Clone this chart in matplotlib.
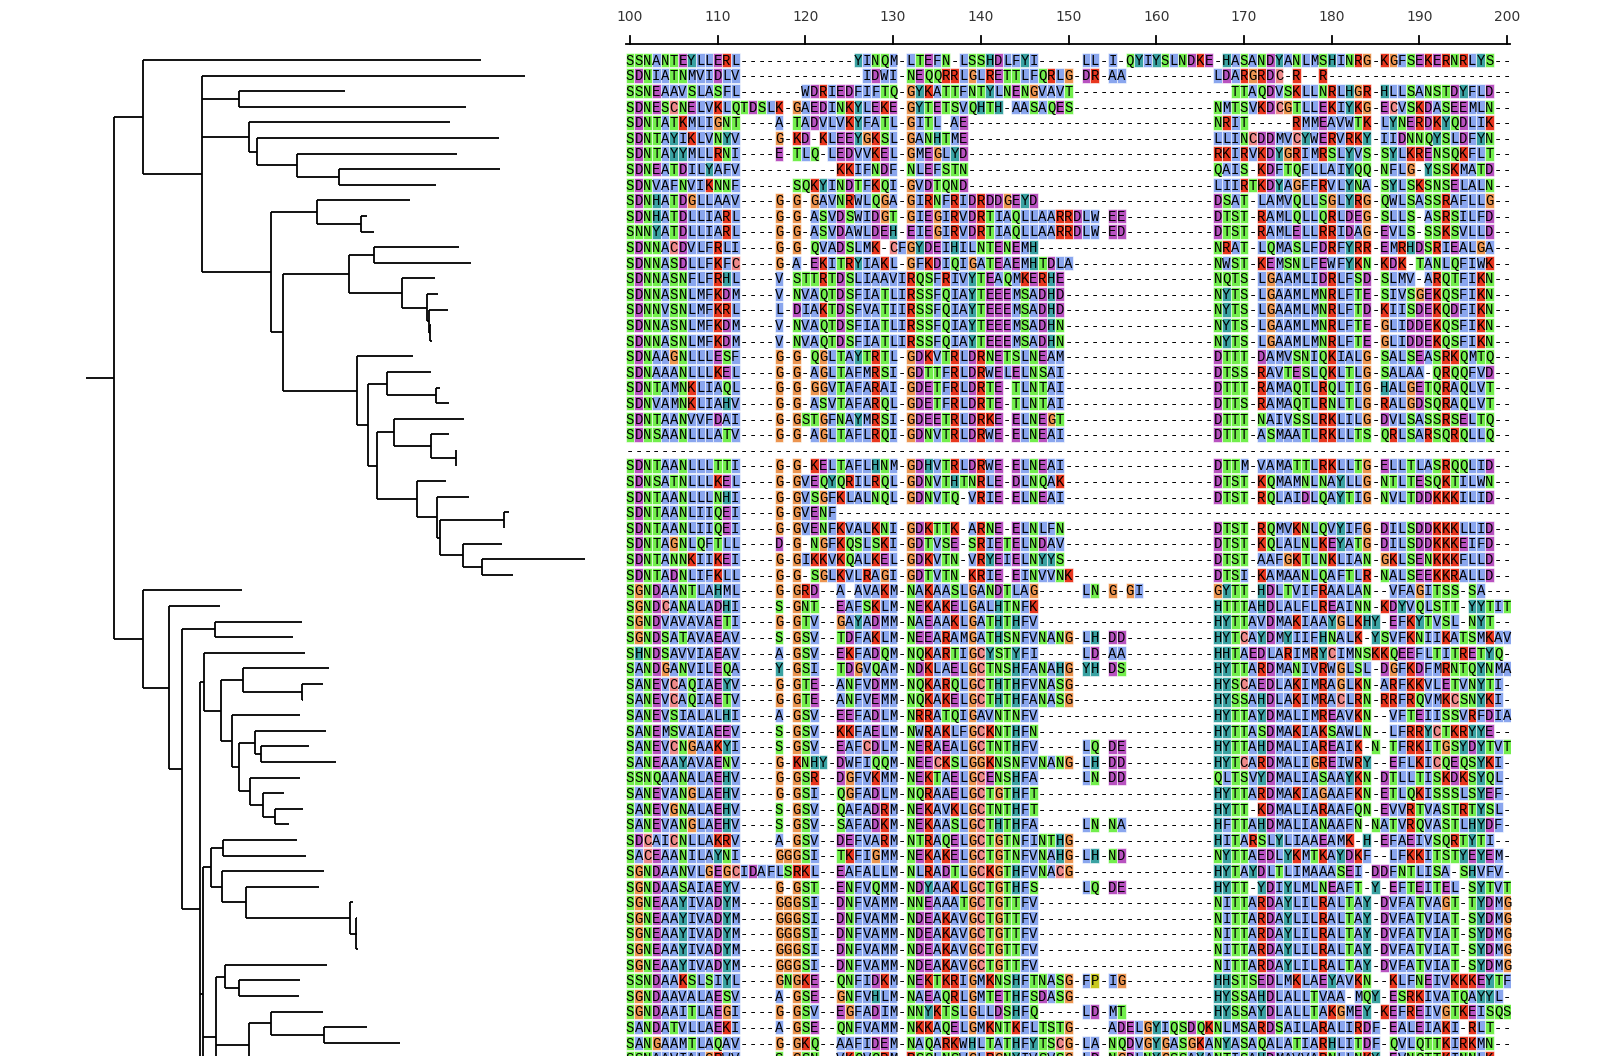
import matplotlib
matplotlib.use("Agg")
import matplotlib.pyplot as plt
from matplotlib.patches import Rectangle

# ---------------- data ----------------
tick_labels = list(range(100, 201, 10))
first_col = 100
n_cols = 101
right_start = 67  # column offset (from 100) where right-hand block begins

left_parts = [
    "SSNANTEYLLERL-------------YINQM-LTEFN-LSSHDLFYI-----LL-I-QYIYSLNDKE",
    "SDNIATNMVIDLV--------------IDWI-NEQQRRLGLRETTLFQRLG-DR-AA",
    "SSNEAAVSLASFL-------WDRIEDFIFTQ-GYKATTFNTYLNENGVAVT",
    "SDNESCNELVKLQTDSLK-GAEDINKYLEKE-GYTETSVQHTH-AASAQES",
    "SDNTATKMLIGNT----A-TADVLVKYFATL-GITL-AE",
    "SDNTAYIKLVNYV----G-KD-KLEEYGKSL-GANHTME",
    "SDNTAYYMLLRNI----E-TLQ-LEDVVKEL-GMEGLYD",
    "SDNEATDILYAFV-----------KKIFNDF-NLEFSTN",
    "SDNVAFNVIKNNF------SQKYINDTFKQI-GVDTQND",
    "SDNHATDGLLAAV----G-G-GAVNRWLQGA-GIRNFRIDRDDGEYD",
    "SDNHATDLLIARL----G-G-ASVDSWIDGT-GIEGIRVDRTIAQLLAARRDLW-EE",
    "SNNYATDLLIARL----G-G-ASVDAWLDEH-EIEGIRVDRTIAQLLAARRDLW-ED",
    "SDNNACDVLFRLI----G-G-QVADSLMK-CFGYDEIHILNTENEMH",
    "SDNNASDLLFKFC----G-A-EKITRYIAKL-GFKDIQIGATEAEMHTDLA",
    "SDNNASNFLFRHL----V-STTRTDSLIAAVIRQSFRIVYTEAQMKERHE",
    "SDNNASNLMFKDM----V-NVAQTDSFIATLIRSSFQIAYTEEEMSADHD",
    "SDNNVSNLMFKRL----L-DIAKTDSFVATIIRSSFQIAYTEEEMSADHD",
    "SDNNASNLMFKDM----V-NVAQTDSFIATLIRSSFQIAYTEEEMSADHN",
    "SDNNASNLMFKDM----V-NVAQTDSFIATLIRSSFQIAYTEEEMSADHN",
    "SDNAAGNLLLESF----G-G-QGLTAYTRTL-GDKVTRLDRNETSLNEAM",
    "SDNAAANLLLKEL----G-G-AGLTAFMRSI-GDTTFRLDRWELELNSAI",
    "SDNTAMNKLIAQL----G-G-GGVTAFARAI-GDETFRLDRTE-TLNTAI",
    "SDNVAMNKLIAHV----G-G-ASVTAFARQL-GDETFRLDRTE-TLNTAI",
    "SDNTAANVVFDAI----G-GSTGFNAYMRSI-GDEETRLDRKE-ELNEGT",
    "SDNSAANLLLATV----G-G-AGLTAFLRQI-GDNVTRLDRWE-ELNEAI",
    "",
    "SDNTAANLLLTTI----G-G-KELTAFLHNM-GDHVTRLDRWE-ELNEAI",
    "SDNSATNLLLKEL----G-GVEQYQRILRQL-GDNVTHTNRLE-DLNQAK",
    "SDNTAANLLLNHI----G-GVSGFKLALNQL-GDNVTQ-VRIE-ELNEAI",
    "SDNTAANLIIQEI----G-GVENF",
    "SDNTAANLIIQEI----G-GVENFKVALKNI-GDKTTK-ARNE-ELNLFN",
    "SDNTAGNLQFTLL----D-G-NGFKQSLSKI-GDTVSE-SRIETELNDAV",
    "SDNTANNKIIKEI----G-GIKKVKQALKEL-GDKVTN-VRYEIELNYYS",
    "SDNTADNLIFKLL----G-G-SGLKVLRAGI-GDTVTN-KRIE-EINVVNK",
    "SGNDAANTLAHML----G-GRD--A-AVAKM-NAKAASLGANDTLAG-----LN-G-GI",
    "SGNDCANALADHI----S-GNT--EAFSKLM-NEKAKELGALHTNFK",
    "SGNDVAVAVAETI----G-GTV--GAYADMM-NAEAAKLGATHTHFV",
    "SGNDSATAVAEAV----S-GSV--TDFAKLM-NEEARAMGATHSNFVNANG-LH-DD",
    "SHNDSAVVIAEAV----A-GSV--EKFADQM-NQKARTIGCYSTYFI-----LD-AA",
    "SANDGANVILEQA----Y-GSI--TDGVQAM-NDKLAELGCTNSHFANAHG-YH-DS",
    "SANEVCAQIAEYV----G-GTE--ANFVDMM-NQKARQLGCTHTHFVNASG",
    "SANEVCAQIAETV----G-GTE--ANFVEMM-NQKAKELGCTHTHFANASG",
    "SANEVSIALALHI----A-GSV--EEFADLM-NRRATQIGAVNTNFV",
    "SANEMSVAIAEEV----S-GSV--KKFAELM-NWRAKLFGCKNTHFN",
    "SANEVCNGAAKYI----S-GSV--EAFCDLM-NERAEALGCTNTHFV-----LQ-DE",
    "SANEAAYAVAENV----G-KNHY-DWFIQQM-NEECKSLGGKNSNFVNANG-LH-DD",
    "SSNQAANALAEHV----G-GSR--DGFVKMM-NEKTAELGCENSHFA-----LN-DD",
    "SANEVANGLAEHV----G-GSI--QGFADLM-NQRAAELGCTGTHFT",
    "SANEVGNALAEHV----S-GSV--QAFADRM-NEKAVKLGCTNTHFT",
    "SANEVANGLAEHV----S-GSV--SAFADKM-NEKAASLGCTHTHFA-----LN-NA",
    "SDCAICNLLAKRV----A-GSV--DEFVARM-NTRAQELGCTGTNFINTHG",
    "SACEAANILAYNI----GGGSI--TKFIGMM-NEKAKELGCTGTNFVNAHG-LH-ND",
    "SGNDAANVLGEGCIDAFLSRKL--EAFALLM-NLRADTLGCKGTHFVNACG",
    "SGNDAASAIAEYV----G-GST--ENFVQMM-NDYAAKLGCTGTHFS-----LQ-DE",
    "SGNEAAYIVADYM----GGGSI--DNFVAMM-NNEAAATGCTGTTFV",
    "SGNEAAYIVADYM----GGGSI--DNFVAMM-NDEAKAVGCTGTTFV",
    "SGNEAAYIVADYM----GGGSI--DNFVAMM-NDEAKAVGCTGTTFV",
    "SGNEAAYIVADYM----GGGSI--DNFVAMM-NDEAKAVGCTGTTFV",
    "SGNEAAYIVADYM----GGGSI--DNFVAMM-NDEAKAVGCTGTTFV",
    "SSNDAAKSLSIYL----GNGKE--QNFIDKM-NEKTKRIGMKNSHFTNASG-FP-IG",
    "SGNDAAVALAESV----A-GSE--GNFVHLM-NAEAQRLGMTETHFSDASG",
    "SGNDAAITLAEGI----G-GSV--EGFADIM-NNYKTSLGLLDSHFQ-----LD-MT",
    "SANDATVLLAEKI----A-GSE--QNFVAMM-NKKAQELGMKNTKFLTSTG----ADELGYIQSDQK",
    "SANGAAMTLAQAV----G-GKQ--AAFIDEM-NAQARKWHLTATHFYTSCG-LA-NQDVGYGASGKA",
    "SSNAAVIALGRWV----S-GSN--VKQVQRM-RSQLNSWGLRGNYIVSVSG-LD-NGDLNYGSSAYA",
]

right_parts = [
    "-HASANDYANLMSHINRG-KGFSEKERNRLYS--",
    "LDARGRDC-R--R---------------------",
    "--TTAQDVSKLLNRLHGR-HLLSANSTDYFLD--",
    "NMTSVKDCGTLLEKIYKG-ECVSKDASEEMLN--",
    "NRIT-----RMMEAVWTK-LYNERDKYQDLIK--",
    "LLINCDDMVCYWERVRKY-IIDNNQYSLDFYN--",
    "RKIRVKDYGRIMRSLYVS-SYLKRENSQKFLT--",
    "QAIS-KDFTQFLLAIYQQ-NFLG-YSSKMATD--",
    "LIIRTKDYAGFFRVLYNA-SYLSKSNSELALN--",
    "DSAT-LAMVQLLSGLYRG-QWLSASSRAFLLG--",
    "DTST-RAMLQLLQRLDEG-SLLS-ASRSILFD--",
    "DTST-RAMLELLRRIDAG-EVLS-SSKSVLLD--",
    "NRAT-LQMASLFDRFYRR-EMRHDSRIEALGA--",
    "NWST-KEMSNLFEWFYKN-KDK-TANLQFIWK--",
    "NQTS-LGAAMLIDRLFSD-SLMV-ARQTFIKN--",
    "NYTS-LGAAMLMNRLFTE-SIVSGEKQSFIKN--",
    "NYTS-LGAAMLMNRLFTD-KIISDEKQDFIKN--",
    "NYTS-LGAAMLMNRLFTE-GLIDDEKQSFIKN--",
    "NYTS-LGAAMLMNRLFTE-GLIDDEKQSFIKN--",
    "DTTT-DAMVSNIQKIALG-SALSEASRKQMTQ--",
    "DTSS-RAVTESLQKLTLG-SALAA-QRQQFVD--",
    "DTTT-RAMAQTLRQLTIG-HALGETQRAQLVT--",
    "DTTS-RAMAQTLRNLTLG-RALGDSQRAQLVT--",
    "DTTT-NAIVSSLRKLILG-DVLSASSRSELTQ--",
    "DTTT-ASMAATLRKLLTS-QRLSARSQRQLLQ--",
    "",
    "DTTM-VAMATTLRKLLTG-ELLTLASRQQLID--",
    "DTST-KQMAMNLNAYLLG-NTLTESQKTILWN--",
    "DTST-RQLAIDLQAYTIG-NVLTDDKKKILID--",
    "",
    "DTST-RQMVKNLQVYIFG-DILSDDKKKLLID--",
    "DTST-KQLALNLKEYATG-DILSDDKKKEIFD--",
    "DTST-AAFGKTLNKLIAN-GKLSENKKKFLLD--",
    "DTSI-KAMAANLQAFTLR-NALSEEKKRALLD--",
    "GYTT-HDLTVIFRAALAN--VFAGITSS-SA---",
    "HTTTAHDLALFLREAINN-KDYVQLSTT-YYTIT",
    "HYTTAVDMAKIAAYGLKHY-EFKYTVSL-NYT--",
    "HYTCAYDMYIIFHNALK-YSVFKNIIKATSMKAV",
    "HHTAEDLARIMRYCIMNSKKQEEFLTITRETYQ-",
    "HYTTARDMANIVRWGLSL-DGFKDFMRNTQYNMA",
    "HYSCAEDLAKIMRAGLKN-ARFKKVLETVNYTI-",
    "HYSSAHDLAKIMRACLRN-RRFRQVMKCSNYKI-",
    "HYTTAYDMALIMREAVKN--VFTEIISSVRFDIA",
    "HYTTASDMAKIAKSAWLN--LFRRYCTKRYYE--",
    "HYTTAHDMALIAREAIK-N-TFRKITGSYDYTVT",
    "HYTCARDMALIGREIWRY--EFLKICQEQSYKI-",
    "QLTSVYDMALIASAAYKN-DTLLTISKDKSYQL-",
    "HYTTARDMAKIAGAAFKN-ETLQKISSSLSYEF-",
    "HYTT-KDMALIARAAFQN-EVVRTVASTRTYSL-",
    "HFTTAHDMALIANAAFN-NATVRQVASTLHYDF-",
    "HITARSLYLIAAEAMK-H-EFAEIVSQRTYTI--",
    "NYTTAEDLYKMTKAYDKF--LFKKITSTYEYEM-",
    "HYTAYDLTLIMAAASEI-DDFNTLISA-SHVFV-",
    "HYTT-YDIYLMLNEAFT-Y-EFTEITEL-SYTVT",
    "NITTARDAYLILRALTAY-DVFATVAGT-TYDMG",
    "NITTARDAYLILRALTAY-DVFATVIAT-SYDMG",
    "NITTARDAYLILRALTAY-DVFATVIAT-SYDMG",
    "NITTARDAYLILRALTAY-DVFATVIAT-SYDMG",
    "NITTARDAYLILRALTAY-DVFATVIAT-SYDMG",
    "HHSTSEDLMKLAEYAVKN--KLFNEIVKKKEYTF",
    "HYSSAHDLALLTVAA-MQY-ESRKIVATQAYYL-",
    "HYSSAYDLALLTAKGMEY-KEFREIVGTKEISQS",
    "NLMSARDSAILARALIRDF-EALEIAKI-RLT--",
    "NYASAQALATIARHLITDF-QVLQTTKIRKMN--",
    "NTISAHDMAVVARNLLNKY-EVNQTTKINNLK--",
]

# tree: [node_depth, children...]; a bare number is a leaf tip depth
tree = [114,
  [143, 481,
    [202, 525,
      [239, 345, 466],
      [249, 450, [257, 499, [297, 457, [339, 500, 436]]]],
      [271,
        [317, 410, [361, 367, 374]],
        [283,
          [349,
            [374, 459, 471],
            [402, 435, [427, 438, [429, 448, [430, 431, 432]]]]],
          [357, 413,
            [368,
              [387, 431, [436, 440, 449]],
              [377,
                [394, 464, [431, 449, [456, 456, 456]]],
                [417, 446, [437, 469, [440, [504, 509, 504],
                                       [463, 502, [482, 585, 513]]]]]]]]]]]],
  [143, 242,
    [169, 220,
      [182, [215, 302, 293],
        [200,
          [204, 305,
            [221, [243, 329, [302, 323, 303]],
                  [232, 300, [239, [255, 326, [261, 309, 336]],
                                  [250, 300, [263, 284, [275, 303, 289]]]]]]],
          [203,
            [211, [223, 297, 306], [222, 324, [246, 319, [350, 353, [356, 357, 357, 358]]]]],
            [216, [225, 327, [239, 300, 299]],
                  [249, [271, 323, [324, 367, 400]], [300, 330, 340]],
                  [240, 320, 330]],
            300],
          300]]]]]

# ---------------- colours ----------------
col_map = {}
for c in "AILMFWV":
    col_map[c] = "#8aa6ee"
for c in "KR":
    col_map[c] = "#e8361e"
for c in "ED":
    col_map[c] = "#b852c0"
for c in "NQST":
    col_map[c] = "#72ee4c"
col_map["G"] = "#ec9550"
col_map["P"] = "#c8c820"
col_map["C"] = "#ee8a8a"
for c in "HY":
    col_map[c] = "#3aa2a2"

W, H = 1614, 1056
fig = plt.figure(figsize=(W / 100, H / 100), dpi=100)

row0_px, row_h = 60.0, 15.6
ytop = -row0_px / row_h
ybot = (H - row0_px) / row_h

# ---------------- tree ----------------
axt = fig.add_axes([0, 0, 600 / W, 1])
axt.set_xlim(0, 600)
axt.set_ylim(ybot, ytop)
axt.axis("off")
counter = [0]
lw = 1.3

def draw(node, parent_x):
    if not isinstance(node, list):
        y = counter[0]
        counter[0] += 1
        axt.plot([parent_x, node], [y, y], color="black", lw=lw, solid_capstyle="butt")
        return y
    x = node[0]
    ys = [draw(ch, x) for ch in node[1:]]
    axt.plot([x, x], [ys[0], ys[-1]], color="black", lw=lw, solid_capstyle="butt")
    ym = (ys[0] + ys[-1]) / 2
    axt.plot([parent_x, x], [ym, ym], color="black", lw=lw, solid_capstyle="butt")
    return ym

draw(tree, 86)

# ---------------- alignment ----------------
px_per_col = 8.77
x100 = 630
left_px = x100 - 0.5 * px_per_col
right_px = x100 + 100.5 * px_per_col
axa = fig.add_axes([left_px / W, 0, (right_px - left_px) / W, 1])
axa.set_xlim(first_col - 0.5, first_col + 100.5)
axa.set_ylim(ybot, ytop)
axa.axis("off")

for r, (lp, rp) in enumerate(zip(left_parts, right_parts)):
    seq = (lp + "-" * right_start)[:right_start] + (rp + "-" * n_cols)[:n_cols - right_start]
    for i, ch in enumerate(seq):
        x = first_col + i
        if ch in col_map:
            axa.add_patch(Rectangle((x - 0.5, r - 0.46), 1, 0.92,
                                    facecolor=col_map[ch], edgecolor="white", lw=0.4))
        axa.text(x, r + 0.05, ch, ha="center", va="center", fontsize=10,
                 family="Liberation Mono", color="black")

# ruler
axis_y = (44 - row0_px) / row_h
tick_y = (36 - row0_px) / row_h
lab_y = (17 - row0_px) / row_h
axa.plot([first_col - 0.5, first_col + 100.3], [axis_y, axis_y], color="black", lw=1.3, clip_on=False)
for t in tick_labels:
    axa.plot([t, t], [axis_y, tick_y], color="black", lw=1.3, clip_on=False)
    axa.text(t, lab_y, str(t), ha="center", va="center", fontsize=10,
             family="DejaVu Sans", color="#333333")

fig.savefig("out.png", dpi=100)
